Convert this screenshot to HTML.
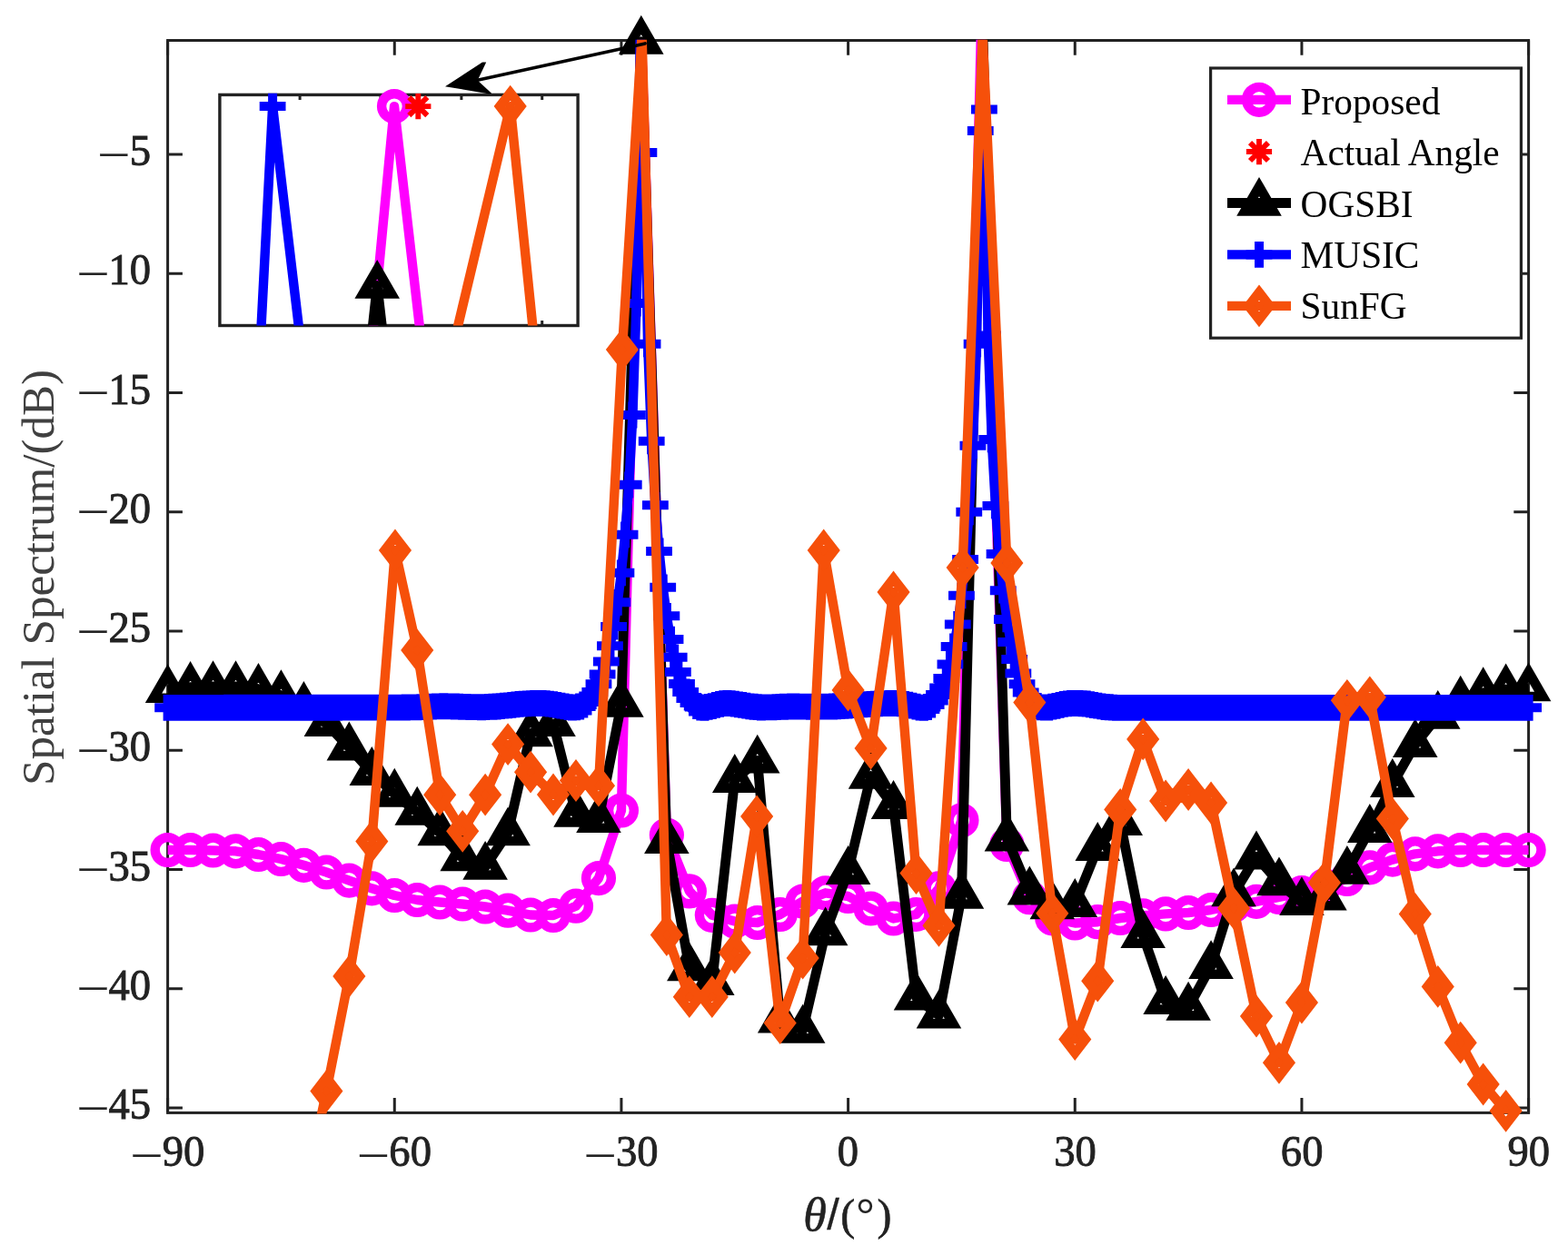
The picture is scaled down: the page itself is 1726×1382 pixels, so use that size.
<!DOCTYPE html>
<html lang="en">
<head>
<meta charset="utf-8">
<title>Spatial Spectrum</title>
<style>
html,body{margin:0;padding:0;background:#ffffff;}
body{width:1726px;height:1382px;overflow:hidden;}
svg{display:block;}
</style>
</head>
<body>
<svg width="1726" height="1382" viewBox="0 0 1726 1382">
<defs><clipPath id="axc"><rect x="183.6" y="43.8" width="1500" height="1182.8"/></clipPath>
<clipPath id="axk"><rect x="183.6" y="40.3" width="1500" height="1186.3"/></clipPath>
<clipPath id="inc"><rect x="241.9" y="104.4" width="394.2" height="254.1"/></clipPath></defs>
<rect x="0" y="0" width="1726" height="1382" fill="#ffffff"/>
<path d="M184.6 1225.4 V1209.1 M184.6 44.5 V60.8 M434.27 1225.4 V1209.1 M434.27 44.5 V60.8 M683.93 1225.4 V1209.1 M683.93 44.5 V60.8 M933.6 1225.4 V1209.1 M933.6 44.5 V60.8 M1183.27 1225.4 V1209.1 M1183.27 44.5 V60.8 M1432.93 1225.4 V1209.1 M1432.93 44.5 V60.8 M1682.6 1225.4 V1209.1 M1682.6 44.5 V60.8 M184.6 1220 H200.9 M1682.6 1220 H1666.3 M184.6 1088.75 H200.9 M1682.6 1088.75 H1666.3 M184.6 957.5 H200.9 M1682.6 957.5 H1666.3 M184.6 826.25 H200.9 M1682.6 826.25 H1666.3 M184.6 695 H200.9 M1682.6 695 H1666.3 M184.6 563.75 H200.9 M1682.6 563.75 H1666.3 M184.6 432.5 H200.9 M1682.6 432.5 H1666.3 M184.6 301.25 H200.9 M1682.6 301.25 H1666.3 M184.6 170 H200.9 M1682.6 170 H1666.3" stroke="#222222" stroke-width="3" fill="none"/>
<rect x="184.6" y="44.5" width="1498" height="1180.9" fill="none" stroke="#222222" stroke-width="3"/>
<g id="proposed">
<path d="M184.6 936 L209.57 936 L234.53 936.5 L259.5 937.3 L284.47 941 L309.43 946 L334.4 952.8 L359.37 960.5 L384.33 969.6 L409.3 978.3 L434.27 986 L459.23 991 L484.2 993.5 L509.17 995.5 L534.13 998.5 L559.1 1002.7 L584.07 1007.5 L609.03 1008 L634 997.7 L658.97 967.1 L683.93 892.5 L706 38.75 L733.87 919.5 L758.83 981.4 L783.8 1007.8 L808.77 1014.5 L833.73 1016 L858.7 1007 L883.67 992.5 L908.63 983.3 L933.6 987 L958.57 1000.5 L983.53 1011.5 L1008.5 1007 L1033.47 978.3 L1058.43 903.3 L1079.8 38.75 L1108.37 930 L1133.33 988.2 L1158.3 1011.3 L1183.27 1016.5 L1208.23 1015.2 L1233.2 1011 L1258.17 1008.3 L1283.13 1006.4 L1308.1 1005 L1333.07 1002 L1358.03 997 L1383 992.8 L1407.97 988 L1432.93 983 L1457.9 975 L1482.87 968 L1507.83 955.3 L1532.8 946.6 L1557.77 940.3 L1582.73 937.3 L1607.7 936 L1632.67 936 L1657.63 936 L1682.6 936" fill="none" stroke="#ff00ff" stroke-width="10.4" stroke-linejoin="round" clip-path="url(#axc)"/>
<g fill="none" stroke="#ff00ff" stroke-width="10.4">
<circle cx="184.6" cy="936" r="13.9"/>
<circle cx="209.57" cy="936" r="13.9"/>
<circle cx="234.53" cy="936.5" r="13.9"/>
<circle cx="259.5" cy="937.3" r="13.9"/>
<circle cx="284.47" cy="941" r="13.9"/>
<circle cx="309.43" cy="946" r="13.9"/>
<circle cx="334.4" cy="952.8" r="13.9"/>
<circle cx="359.37" cy="960.5" r="13.9"/>
<circle cx="384.33" cy="969.6" r="13.9"/>
<circle cx="409.3" cy="978.3" r="13.9"/>
<circle cx="434.27" cy="986" r="13.9"/>
<circle cx="459.23" cy="991" r="13.9"/>
<circle cx="484.2" cy="993.5" r="13.9"/>
<circle cx="509.17" cy="995.5" r="13.9"/>
<circle cx="534.13" cy="998.5" r="13.9"/>
<circle cx="559.1" cy="1002.7" r="13.9"/>
<circle cx="584.07" cy="1007.5" r="13.9"/>
<circle cx="609.03" cy="1008" r="13.9"/>
<circle cx="634" cy="997.7" r="13.9"/>
<circle cx="658.97" cy="967.1" r="13.9"/>
<circle cx="683.93" cy="892.5" r="13.9"/>
<circle cx="733.87" cy="919.5" r="13.9"/>
<circle cx="758.83" cy="981.4" r="13.9"/>
<circle cx="783.8" cy="1007.8" r="13.9"/>
<circle cx="808.77" cy="1014.5" r="13.9"/>
<circle cx="833.73" cy="1016" r="13.9"/>
<circle cx="858.7" cy="1007" r="13.9"/>
<circle cx="883.67" cy="992.5" r="13.9"/>
<circle cx="908.63" cy="983.3" r="13.9"/>
<circle cx="933.6" cy="987" r="13.9"/>
<circle cx="958.57" cy="1000.5" r="13.9"/>
<circle cx="983.53" cy="1011.5" r="13.9"/>
<circle cx="1008.5" cy="1007" r="13.9"/>
<circle cx="1033.47" cy="978.3" r="13.9"/>
<circle cx="1058.43" cy="903.3" r="13.9"/>
<circle cx="1108.37" cy="930" r="13.9"/>
<circle cx="1133.33" cy="988.2" r="13.9"/>
<circle cx="1158.3" cy="1011.3" r="13.9"/>
<circle cx="1183.27" cy="1016.5" r="13.9"/>
<circle cx="1208.23" cy="1015.2" r="13.9"/>
<circle cx="1233.2" cy="1011" r="13.9"/>
<circle cx="1258.17" cy="1008.3" r="13.9"/>
<circle cx="1283.13" cy="1006.4" r="13.9"/>
<circle cx="1308.1" cy="1005" r="13.9"/>
<circle cx="1333.07" cy="1002" r="13.9"/>
<circle cx="1358.03" cy="997" r="13.9"/>
<circle cx="1383" cy="992.8" r="13.9"/>
<circle cx="1407.97" cy="988" r="13.9"/>
<circle cx="1432.93" cy="983" r="13.9"/>
<circle cx="1457.9" cy="975" r="13.9"/>
<circle cx="1482.87" cy="968" r="13.9"/>
<circle cx="1507.83" cy="955.3" r="13.9"/>
<circle cx="1532.8" cy="946.6" r="13.9"/>
<circle cx="1557.77" cy="940.3" r="13.9"/>
<circle cx="1582.73" cy="937.3" r="13.9"/>
<circle cx="1607.7" cy="936" r="13.9"/>
<circle cx="1632.67" cy="936" r="13.9"/>
<circle cx="1657.63" cy="936" r="13.9"/>
<circle cx="1682.6" cy="936" r="13.9"/>
</g></g>
<g id="ogsbi">
<path d="M184.6 759.8 L209.57 756.6 L234.53 755.8 L259.5 755.8 L284.47 758.6 L309.43 765.8 L334.4 778.6 L359.37 796.8 L384.33 823.1 L409.3 850.6 L434.27 874.4 L459.23 894.4 L484.2 917 L509.17 945 L534.13 954.5 L559.1 917 L584.07 808 L609.03 796.8 L634 896.4 L658.97 902.7 L683.93 775.5 L705.8 45.4 L733.87 925.7 L758.83 1066 L783.8 1081.8 L808.77 858.6 L833.73 837.3 L858.7 1123.1 L883.67 1134.4 L908.63 1027 L933.6 959.6 L958.57 854.4 L983.53 887.7 L1008.5 1098.3 L1033.47 1118.1 L1058.43 986.5 L1081.9 38.75 L1108.37 923.2 L1133.33 982.2 L1158.3 998 L1183.27 995.6 L1208.23 933.7 L1233.2 905.7 L1258.17 1029.7 L1283.13 1102.6 L1308.1 1109.4 L1333.07 1063.8 L1358.03 984 L1383 943.2 L1407.97 972 L1432.93 993.8 L1457.9 988.3 L1482.87 959.5 L1507.83 913.7 L1532.8 863.6 L1557.77 819.8 L1582.73 788.5 L1607.7 772.3 L1632.67 762.8 L1657.63 759.1 L1682.6 758" fill="none" stroke="#000000" stroke-width="10.8" stroke-linejoin="round" clip-path="url(#axc)"/>
<circle cx="705.8" cy="45.4" r="5.2" fill="#000"/>
<path d="M184.6 741.79 L200.2 768.81 L169 768.81 Z M209.57 738.59 L225.17 765.61 L193.97 765.61 Z M234.53 737.79 L250.13 764.81 L218.93 764.81 Z M259.5 737.79 L275.1 764.81 L243.9 764.81 Z M284.47 740.59 L300.07 767.61 L268.87 767.61 Z M309.43 747.79 L325.03 774.81 L293.83 774.81 Z M334.4 760.59 L350 787.61 L318.8 787.61 Z M359.37 778.79 L374.97 805.81 L343.77 805.81 Z M384.33 805.09 L399.93 832.11 L368.73 832.11 Z M409.3 832.59 L424.9 859.61 L393.7 859.61 Z M434.27 856.39 L449.87 883.41 L418.67 883.41 Z M459.23 876.39 L474.83 903.41 L443.63 903.41 Z M484.2 898.99 L499.8 926.01 L468.6 926.01 Z M509.17 926.99 L524.77 954.01 L493.57 954.01 Z M534.13 936.49 L549.73 963.51 L518.53 963.51 Z M559.1 898.99 L574.7 926.01 L543.5 926.01 Z M584.07 789.99 L599.67 817.01 L568.47 817.01 Z M609.03 778.79 L624.63 805.81 L593.43 805.81 Z M634 878.39 L649.6 905.41 L618.4 905.41 Z M658.97 884.69 L674.57 911.71 L643.37 911.71 Z M683.93 757.49 L699.53 784.51 L668.33 784.51 Z M705.8 27.39 L721.4 54.41 L690.2 54.41 Z M733.87 907.69 L749.47 934.71 L718.27 934.71 Z M758.83 1047.99 L774.43 1075.01 L743.23 1075.01 Z M783.8 1063.79 L799.4 1090.81 L768.2 1090.81 Z M808.77 840.59 L824.37 867.61 L793.17 867.61 Z M833.73 819.29 L849.33 846.31 L818.13 846.31 Z M858.7 1105.09 L874.3 1132.11 L843.1 1132.11 Z M883.67 1116.39 L899.27 1143.41 L868.07 1143.41 Z M908.63 1008.99 L924.23 1036.01 L893.03 1036.01 Z M933.6 941.59 L949.2 968.61 L918 968.61 Z M958.57 836.39 L974.17 863.41 L942.97 863.41 Z M983.53 869.69 L999.13 896.71 L967.93 896.71 Z M1008.5 1080.29 L1024.1 1107.31 L992.9 1107.31 Z M1033.47 1100.09 L1049.07 1127.11 L1017.87 1127.11 Z M1058.43 968.49 L1074.03 995.51 L1042.83 995.51 Z M1108.37 905.19 L1123.97 932.21 L1092.77 932.21 Z M1133.33 964.19 L1148.93 991.21 L1117.73 991.21 Z M1158.3 979.99 L1173.9 1007.01 L1142.7 1007.01 Z M1183.27 977.59 L1198.87 1004.61 L1167.67 1004.61 Z M1208.23 915.69 L1223.83 942.71 L1192.63 942.71 Z M1233.2 887.69 L1248.8 914.71 L1217.6 914.71 Z M1258.17 1011.69 L1273.77 1038.71 L1242.57 1038.71 Z M1283.13 1084.59 L1298.73 1111.61 L1267.53 1111.61 Z M1308.1 1091.39 L1323.7 1118.41 L1292.5 1118.41 Z M1333.07 1045.79 L1348.67 1072.81 L1317.47 1072.81 Z M1358.03 965.99 L1373.63 993.01 L1342.43 993.01 Z M1383 925.19 L1398.6 952.21 L1367.4 952.21 Z M1407.97 953.99 L1423.57 981.01 L1392.37 981.01 Z M1432.93 975.79 L1448.53 1002.81 L1417.33 1002.81 Z M1457.9 970.29 L1473.5 997.31 L1442.3 997.31 Z M1482.87 941.49 L1498.47 968.51 L1467.27 968.51 Z M1507.83 895.69 L1523.43 922.71 L1492.23 922.71 Z M1532.8 845.59 L1548.4 872.61 L1517.2 872.61 Z M1557.77 801.79 L1573.37 828.81 L1542.17 828.81 Z M1582.73 770.49 L1598.33 797.51 L1567.13 797.51 Z M1607.7 754.29 L1623.3 781.31 L1592.1 781.31 Z M1632.67 744.79 L1648.27 771.81 L1617.07 771.81 Z M1657.63 741.09 L1673.23 768.11 L1642.03 768.11 Z M1682.6 739.99 L1698.2 767.01 L1667 767.01 Z" fill="none" stroke="#000000" stroke-width="10.6" stroke-linejoin="miter" stroke-miterlimit="10"/>
</g>
<g id="music">
<path d="M184.6 779.3 L188.76 779.3 L192.92 779.3 L197.08 779.29 L201.24 779.29 L205.41 779.29 L209.57 779.29 L213.73 779.29 L217.89 779.29 L222.05 779.28 L226.21 779.28 L230.37 779.28 L234.53 779.28 L238.69 779.28 L242.86 779.28 L247.02 779.27 L251.18 779.27 L255.34 779.27 L259.5 779.27 L263.66 779.27 L267.82 779.27 L271.98 779.26 L276.14 779.26 L280.31 779.26 L284.47 779.26 L288.63 779.26 L292.79 779.26 L296.95 779.25 L301.11 779.25 L305.27 779.25 L309.43 779.25 L313.59 779.25 L317.76 779.25 L321.92 779.25 L326.08 779.24 L330.24 779.24 L334.4 779.24 L338.56 779.24 L342.72 779.24 L346.88 779.24 L351.04 779.23 L355.21 779.23 L359.37 779.23 L363.53 779.23 L367.69 779.23 L371.85 779.23 L376.01 779.22 L380.17 779.22 L384.33 779.22 L388.49 779.22 L392.66 779.22 L396.82 779.22 L400.98 779.21 L405.14 779.21 L409.3 779.21 L413.46 779.21 L417.62 779.21 L421.78 779.21 L425.94 779.2 L430.11 779.2 L434.27 779.2 L438.43 779.13 L442.59 779.07 L446.75 779 L450.91 778.93 L455.07 778.87 L459.23 778.8 L463.39 778.62 L467.56 778.45 L471.72 778.27 L475.88 778.1 L480.04 777.97 L484.2 777.83 L488.36 777.7 L492.52 777.8 L496.68 777.9 L500.84 778 L505.01 778.15 L509.17 778.3 L513.33 778.45 L517.49 778.6 L521.65 778.66 L525.81 778.71 L529.97 778.77 L534.13 778.71 L538.29 778.47 L542.46 778.24 L546.62 778 L550.78 777.6 L554.94 777.2 L559.1 776.8 L563.26 776.33 L567.42 775.87 L571.58 775.4 L575.74 775.13 L579.91 774.87 L584.07 774.6 L588.23 774.5 L592.39 774.4 L596.55 774.5 L600.71 774.6 L604.87 775.1 L609.03 775.6 L613.19 776.4 L617.36 777.2 L621.52 777.95 L625.68 778.7 L629.84 779.1 L634 778.9 L638.16 778 L642.32 776 L646.48 773 L650.64 768.5 L654.81 762 L658.97 753.3 L663.13 742.6 L667.29 728.6 L671.45 711.3 L675.61 690 L679.77 663.3 L683.93 630.8 L688.09 588.8 L692.26 533.8 L696.42 457 L700.58 334 L704.74 39 L708.9 168 L713.06 378.8 L717.22 485.8 L721.38 556.3 L725.54 607 L729.71 646.8 L733.87 678.3 L738.03 704.1 L742.19 723.8 L746.35 739.9 L750.51 753 L754.67 762 L758.83 769 L762.99 774 L767.16 777.5 L771.32 779.2 L775.48 779.3 L779.64 778.45 L783.8 777.6 L787.96 776.45 L792.12 775.3 L796.28 774.66 L800.44 774.48 L804.61 774.6 L808.77 775.2 L812.93 775.8 L817.09 776.47 L821.25 777.13 L825.41 777.8 L829.57 778.26 L833.73 778.72 L837.89 778.98 L842.06 778.92 L846.22 778.86 L850.38 778.8 L854.54 778.61 L858.7 778.42 L862.86 778.24 L867.02 778.05 L871.18 777.92 L875.34 777.99 L879.51 778.07 L883.67 778.15 L887.83 778.22 L891.99 778.3 L896.15 778.25 L900.31 778.2 L904.47 778.15 L908.63 778.1 L912.79 778.05 L916.96 778 L921.12 777.75 L925.28 777.5 L929.44 777.25 L933.6 777 L937.76 776.7 L941.92 776.4 L946.08 776.1 L950.24 775.8 L954.41 775.55 L958.57 775.3 L962.73 775.05 L966.89 774.8 L971.05 774.68 L975.21 774.56 L979.37 774.45 L983.53 774.49 L987.69 774.65 L991.86 774.8 L996.02 775.5 L1000.18 776.2 L1004.34 777.2 L1008.5 778.2 L1012.66 779.2 L1016.82 779.3 L1020.98 778.5 L1025.14 776 L1029.31 771.5 L1033.47 765 L1037.63 757.6 L1041.79 747 L1045.95 731.4 L1050.11 712 L1054.27 687.5 L1058.43 655.8 L1062.59 616.1 L1066.76 563.8 L1070.92 490.8 L1075.08 378.8 L1079.24 143.9 L1083.4 120.5 L1087.56 369.4 L1091.72 483.9 L1095.88 556.9 L1100.04 609.9 L1104.21 650.2 L1108.37 681.9 L1112.53 706.9 L1116.69 726.1 L1120.85 741.4 L1125.01 753.3 L1129.17 762.6 L1133.33 769.5 L1137.49 774.5 L1141.66 777.5 L1145.82 778.8 L1149.98 779.2 L1154.14 779 L1158.3 778.15 L1162.46 777.3 L1166.62 776.35 L1170.78 775.4 L1174.94 774.95 L1179.11 774.5 L1183.27 774.44 L1187.43 774.5 L1191.59 774.75 L1195.75 775 L1199.91 775.75 L1204.07 776.5 L1208.23 777.17 L1212.39 777.83 L1216.56 778.5 L1220.72 778.77 L1224.88 779.03 L1229.04 779.3 L1233.2 779.3 L1237.36 779.3 L1241.52 779.3 L1245.68 779.3 L1249.84 779.3 L1254.01 779.3 L1258.17 779.3 L1262.33 779.3 L1266.49 779.3 L1270.65 779.3 L1274.81 779.3 L1278.97 779.3 L1283.13 779.3 L1287.29 779.3 L1291.46 779.3 L1295.62 779.3 L1299.78 779.3 L1303.94 779.3 L1308.1 779.3 L1312.26 779.3 L1316.42 779.3 L1320.58 779.3 L1324.74 779.3 L1328.91 779.3 L1333.07 779.3 L1337.23 779.3 L1341.39 779.3 L1345.55 779.3 L1349.71 779.3 L1353.87 779.3 L1358.03 779.3 L1362.19 779.3 L1366.36 779.3 L1370.52 779.3 L1374.68 779.3 L1378.84 779.3 L1383 779.3 L1387.16 779.3 L1391.32 779.3 L1395.48 779.3 L1399.64 779.3 L1403.81 779.3 L1407.97 779.3 L1412.13 779.3 L1416.29 779.3 L1420.45 779.3 L1424.61 779.3 L1428.77 779.3 L1432.93 779.3 L1437.09 779.3 L1441.26 779.3 L1445.42 779.3 L1449.58 779.3 L1453.74 779.3 L1457.9 779.3 L1462.06 779.3 L1466.22 779.3 L1470.38 779.3 L1474.54 779.3 L1478.71 779.3 L1482.87 779.3 L1487.03 779.3 L1491.19 779.3 L1495.35 779.3 L1499.51 779.3 L1503.67 779.3 L1507.83 779.3 L1511.99 779.3 L1516.16 779.3 L1520.32 779.3 L1524.48 779.3 L1528.64 779.3 L1532.8 779.3 L1536.96 779.3 L1541.12 779.3 L1545.28 779.3 L1549.44 779.3 L1553.61 779.3 L1557.77 779.3 L1561.93 779.3 L1566.09 779.3 L1570.25 779.3 L1574.41 779.3 L1578.57 779.3 L1582.73 779.3 L1586.89 779.3 L1591.06 779.3 L1595.22 779.3 L1599.38 779.3 L1603.54 779.3 L1607.7 779.3 L1611.86 779.3 L1616.02 779.3 L1620.18 779.3 L1624.34 779.3 L1628.51 779.3 L1632.67 779.3 L1636.83 779.3 L1640.99 779.3 L1645.15 779.3 L1649.31 779.3 L1653.47 779.3 L1657.63 779.3 L1661.79 779.3 L1665.96 779.3 L1670.12 779.3 L1674.28 779.3 L1678.44 779.3 L1682.6 779.3" fill="none" stroke="#0000ff" stroke-width="10.4" stroke-linejoin="round" clip-path="url(#axc)"/>
<path d="M170.2 779.3h28.8 M184.6 764.9v28.8 M174.36 779.3h28.8 M188.76 764.9v28.8 M178.52 779.3h28.8 M192.92 764.9v28.8 M182.68 779.29h28.8 M197.08 764.89v28.8 M186.84 779.29h28.8 M201.24 764.89v28.8 M191.01 779.29h28.8 M205.41 764.89v28.8 M195.17 779.29h28.8 M209.57 764.89v28.8 M199.33 779.29h28.8 M213.73 764.89v28.8 M203.49 779.29h28.8 M217.89 764.89v28.8 M207.65 779.28h28.8 M222.05 764.88v28.8 M211.81 779.28h28.8 M226.21 764.88v28.8 M215.97 779.28h28.8 M230.37 764.88v28.8 M220.13 779.28h28.8 M234.53 764.88v28.8 M224.29 779.28h28.8 M238.69 764.88v28.8 M228.46 779.28h28.8 M242.86 764.88v28.8 M232.62 779.27h28.8 M247.02 764.88v28.8 M236.78 779.27h28.8 M251.18 764.87v28.8 M240.94 779.27h28.8 M255.34 764.87v28.8 M245.1 779.27h28.8 M259.5 764.87v28.8 M249.26 779.27h28.8 M263.66 764.87v28.8 M253.42 779.27h28.8 M267.82 764.87v28.8 M257.58 779.26h28.8 M271.98 764.87v28.8 M261.74 779.26h28.8 M276.14 764.86v28.8 M265.91 779.26h28.8 M280.31 764.86v28.8 M270.07 779.26h28.8 M284.47 764.86v28.8 M274.23 779.26h28.8 M288.63 764.86v28.8 M278.39 779.26h28.8 M292.79 764.86v28.8 M282.55 779.25h28.8 M296.95 764.86v28.8 M286.71 779.25h28.8 M301.11 764.85v28.8 M290.87 779.25h28.8 M305.27 764.85v28.8 M295.03 779.25h28.8 M309.43 764.85v28.8 M299.19 779.25h28.8 M313.59 764.85v28.8 M303.36 779.25h28.8 M317.76 764.85v28.8 M307.52 779.25h28.8 M321.92 764.85v28.8 M311.68 779.24h28.8 M326.08 764.84v28.8 M315.84 779.24h28.8 M330.24 764.84v28.8 M320 779.24h28.8 M334.4 764.84v28.8 M324.16 779.24h28.8 M338.56 764.84v28.8 M328.32 779.24h28.8 M342.72 764.84v28.8 M332.48 779.24h28.8 M346.88 764.84v28.8 M336.64 779.23h28.8 M351.04 764.83v28.8 M340.81 779.23h28.8 M355.21 764.83v28.8 M344.97 779.23h28.8 M359.37 764.83v28.8 M349.13 779.23h28.8 M363.53 764.83v28.8 M353.29 779.23h28.8 M367.69 764.83v28.8 M357.45 779.23h28.8 M371.85 764.83v28.8 M361.61 779.22h28.8 M376.01 764.82v28.8 M365.77 779.22h28.8 M380.17 764.82v28.8 M369.93 779.22h28.8 M384.33 764.82v28.8 M374.09 779.22h28.8 M388.49 764.82v28.8 M378.26 779.22h28.8 M392.66 764.82v28.8 M382.42 779.22h28.8 M396.82 764.82v28.8 M386.58 779.21h28.8 M400.98 764.81v28.8 M390.74 779.21h28.8 M405.14 764.81v28.8 M394.9 779.21h28.8 M409.3 764.81v28.8 M399.06 779.21h28.8 M413.46 764.81v28.8 M403.22 779.21h28.8 M417.62 764.81v28.8 M407.38 779.21h28.8 M421.78 764.81v28.8 M411.54 779.2h28.8 M425.94 764.8v28.8 M415.71 779.2h28.8 M430.11 764.8v28.8 M419.87 779.2h28.8 M434.27 764.8v28.8 M424.03 779.13h28.8 M438.43 764.73v28.8 M428.19 779.07h28.8 M442.59 764.67v28.8 M432.35 779h28.8 M446.75 764.6v28.8 M436.51 778.93h28.8 M450.91 764.53v28.8 M440.67 778.87h28.8 M455.07 764.47v28.8 M444.83 778.8h28.8 M459.23 764.4v28.8 M448.99 778.62h28.8 M463.39 764.23v28.8 M453.16 778.45h28.8 M467.56 764.05v28.8 M457.32 778.27h28.8 M471.72 763.88v28.8 M461.48 778.1h28.8 M475.88 763.7v28.8 M465.64 777.97h28.8 M480.04 763.57v28.8 M469.8 777.83h28.8 M484.2 763.43v28.8 M473.96 777.7h28.8 M488.36 763.3v28.8 M478.12 777.8h28.8 M492.52 763.4v28.8 M482.28 777.9h28.8 M496.68 763.5v28.8 M486.44 778h28.8 M500.84 763.6v28.8 M490.61 778.15h28.8 M505.01 763.75v28.8 M494.77 778.3h28.8 M509.17 763.9v28.8 M498.93 778.45h28.8 M513.33 764.05v28.8 M503.09 778.6h28.8 M517.49 764.2v28.8 M507.25 778.66h28.8 M521.65 764.26v28.8 M511.41 778.71h28.8 M525.81 764.31v28.8 M515.57 778.77h28.8 M529.97 764.37v28.8 M519.73 778.71h28.8 M534.13 764.31v28.8 M523.89 778.47h28.8 M538.29 764.07v28.8 M528.06 778.24h28.8 M542.46 763.84v28.8 M532.22 778h28.8 M546.62 763.6v28.8 M536.38 777.6h28.8 M550.78 763.2v28.8 M540.54 777.2h28.8 M554.94 762.8v28.8 M544.7 776.8h28.8 M559.1 762.4v28.8 M548.86 776.33h28.8 M563.26 761.93v28.8 M553.02 775.87h28.8 M567.42 761.47v28.8 M557.18 775.4h28.8 M571.58 761v28.8 M561.34 775.13h28.8 M575.74 760.73v28.8 M565.51 774.87h28.8 M579.91 760.47v28.8 M569.67 774.6h28.8 M584.07 760.2v28.8 M573.83 774.5h28.8 M588.23 760.1v28.8 M577.99 774.4h28.8 M592.39 760v28.8 M582.15 774.5h28.8 M596.55 760.1v28.8 M586.31 774.6h28.8 M600.71 760.2v28.8 M590.47 775.1h28.8 M604.87 760.7v28.8 M594.63 775.6h28.8 M609.03 761.2v28.8 M598.79 776.4h28.8 M613.19 762v28.8 M602.96 777.2h28.8 M617.36 762.8v28.8 M607.12 777.95h28.8 M621.52 763.55v28.8 M611.28 778.7h28.8 M625.68 764.3v28.8 M615.44 779.1h28.8 M629.84 764.7v28.8 M619.6 778.9h28.8 M634 764.5v28.8 M623.76 778h28.8 M638.16 763.6v28.8 M627.92 776h28.8 M642.32 761.6v28.8 M632.08 773h28.8 M646.48 758.6v28.8 M636.24 768.5h28.8 M650.64 754.1v28.8 M640.41 762h28.8 M654.81 747.6v28.8 M644.57 753.3h28.8 M658.97 738.9v28.8 M648.73 742.6h28.8 M663.13 728.2v28.8 M652.89 728.6h28.8 M667.29 714.2v28.8 M657.05 711.3h28.8 M671.45 696.9v28.8 M661.21 690h28.8 M675.61 675.6v28.8 M665.37 663.3h28.8 M679.77 648.9v28.8 M669.53 630.8h28.8 M683.93 616.4v28.8 M673.69 588.8h28.8 M688.09 574.4v28.8 M677.86 533.8h28.8 M692.26 519.4v28.8 M682.02 457h28.8 M696.42 442.6v28.8 M686.18 334h28.8 M700.58 319.6v28.8 M694.5 168h28.8 M708.9 153.6v28.8 M698.66 378.8h28.8 M713.06 364.4v28.8 M702.82 485.8h28.8 M717.22 471.4v28.8 M706.98 556.3h28.8 M721.38 541.9v28.8 M711.14 607h28.8 M725.54 592.6v28.8 M715.31 646.8h28.8 M729.71 632.4v28.8 M719.47 678.3h28.8 M733.87 663.9v28.8 M723.63 704.1h28.8 M738.03 689.7v28.8 M727.79 723.8h28.8 M742.19 709.4v28.8 M731.95 739.9h28.8 M746.35 725.5v28.8 M736.11 753h28.8 M750.51 738.6v28.8 M740.27 762h28.8 M754.67 747.6v28.8 M744.43 769h28.8 M758.83 754.6v28.8 M748.59 774h28.8 M762.99 759.6v28.8 M752.76 777.5h28.8 M767.16 763.1v28.8 M756.92 779.2h28.8 M771.32 764.8v28.8 M761.08 779.3h28.8 M775.48 764.9v28.8 M765.24 778.45h28.8 M779.64 764.05v28.8 M769.4 777.6h28.8 M783.8 763.2v28.8 M773.56 776.45h28.8 M787.96 762.05v28.8 M777.72 775.3h28.8 M792.12 760.9v28.8 M781.88 774.66h28.8 M796.28 760.26v28.8 M786.04 774.48h28.8 M800.44 760.08v28.8 M790.21 774.6h28.8 M804.61 760.2v28.8 M794.37 775.2h28.8 M808.77 760.8v28.8 M798.53 775.8h28.8 M812.93 761.4v28.8 M802.69 776.47h28.8 M817.09 762.07v28.8 M806.85 777.13h28.8 M821.25 762.73v28.8 M811.01 777.8h28.8 M825.41 763.4v28.8 M815.17 778.26h28.8 M829.57 763.86v28.8 M819.33 778.72h28.8 M833.73 764.32v28.8 M823.49 778.98h28.8 M837.89 764.58v28.8 M827.66 778.92h28.8 M842.06 764.52v28.8 M831.82 778.86h28.8 M846.22 764.46v28.8 M835.98 778.8h28.8 M850.38 764.4v28.8 M840.14 778.61h28.8 M854.54 764.21v28.8 M844.3 778.42h28.8 M858.7 764.02v28.8 M848.46 778.24h28.8 M862.86 763.84v28.8 M852.62 778.05h28.8 M867.02 763.65v28.8 M856.78 777.92h28.8 M871.18 763.52v28.8 M860.94 777.99h28.8 M875.34 763.59v28.8 M865.11 778.07h28.8 M879.51 763.67v28.8 M869.27 778.15h28.8 M883.67 763.75v28.8 M873.43 778.22h28.8 M887.83 763.82v28.8 M877.59 778.3h28.8 M891.99 763.9v28.8 M881.75 778.25h28.8 M896.15 763.85v28.8 M885.91 778.2h28.8 M900.31 763.8v28.8 M890.07 778.15h28.8 M904.47 763.75v28.8 M894.23 778.1h28.8 M908.63 763.7v28.8 M898.39 778.05h28.8 M912.79 763.65v28.8 M902.56 778h28.8 M916.96 763.6v28.8 M906.72 777.75h28.8 M921.12 763.35v28.8 M910.88 777.5h28.8 M925.28 763.1v28.8 M915.04 777.25h28.8 M929.44 762.85v28.8 M919.2 777h28.8 M933.6 762.6v28.8 M923.36 776.7h28.8 M937.76 762.3v28.8 M927.52 776.4h28.8 M941.92 762v28.8 M931.68 776.1h28.8 M946.08 761.7v28.8 M935.84 775.8h28.8 M950.24 761.4v28.8 M940.01 775.55h28.8 M954.41 761.15v28.8 M944.17 775.3h28.8 M958.57 760.9v28.8 M948.33 775.05h28.8 M962.73 760.65v28.8 M952.49 774.8h28.8 M966.89 760.4v28.8 M956.65 774.68h28.8 M971.05 760.28v28.8 M960.81 774.56h28.8 M975.21 760.16v28.8 M964.97 774.45h28.8 M979.37 760.05v28.8 M969.13 774.49h28.8 M983.53 760.09v28.8 M973.29 774.65h28.8 M987.69 760.25v28.8 M977.46 774.8h28.8 M991.86 760.4v28.8 M981.62 775.5h28.8 M996.02 761.1v28.8 M985.78 776.2h28.8 M1000.18 761.8v28.8 M989.94 777.2h28.8 M1004.34 762.8v28.8 M994.1 778.2h28.8 M1008.5 763.8v28.8 M998.26 779.2h28.8 M1012.66 764.8v28.8 M1002.42 779.3h28.8 M1016.82 764.9v28.8 M1006.58 778.5h28.8 M1020.98 764.1v28.8 M1010.74 776h28.8 M1025.14 761.6v28.8 M1014.91 771.5h28.8 M1029.31 757.1v28.8 M1019.07 765h28.8 M1033.47 750.6v28.8 M1023.23 757.6h28.8 M1037.63 743.2v28.8 M1027.39 747h28.8 M1041.79 732.6v28.8 M1031.55 731.4h28.8 M1045.95 717v28.8 M1035.71 712h28.8 M1050.11 697.6v28.8 M1039.87 687.5h28.8 M1054.27 673.1v28.8 M1044.03 655.8h28.8 M1058.43 641.4v28.8 M1048.19 616.1h28.8 M1062.59 601.7v28.8 M1052.36 563.8h28.8 M1066.76 549.4v28.8 M1056.52 490.8h28.8 M1070.92 476.4v28.8 M1060.68 378.8h28.8 M1075.08 364.4v28.8 M1064.84 143.9h28.8 M1079.24 129.5v28.8 M1069 120.5h28.8 M1083.4 106.1v28.8 M1073.16 369.4h28.8 M1087.56 355v28.8 M1077.32 483.9h28.8 M1091.72 469.5v28.8 M1081.48 556.9h28.8 M1095.88 542.5v28.8 M1085.64 609.9h28.8 M1100.04 595.5v28.8 M1089.81 650.2h28.8 M1104.21 635.8v28.8 M1093.97 681.9h28.8 M1108.37 667.5v28.8 M1098.13 706.9h28.8 M1112.53 692.5v28.8 M1102.29 726.1h28.8 M1116.69 711.7v28.8 M1106.45 741.4h28.8 M1120.85 727v28.8 M1110.61 753.3h28.8 M1125.01 738.9v28.8 M1114.77 762.6h28.8 M1129.17 748.2v28.8 M1118.93 769.5h28.8 M1133.33 755.1v28.8 M1123.09 774.5h28.8 M1137.49 760.1v28.8 M1127.26 777.5h28.8 M1141.66 763.1v28.8 M1131.42 778.8h28.8 M1145.82 764.4v28.8 M1135.58 779.2h28.8 M1149.98 764.8v28.8 M1139.74 779h28.8 M1154.14 764.6v28.8 M1143.9 778.15h28.8 M1158.3 763.75v28.8 M1148.06 777.3h28.8 M1162.46 762.9v28.8 M1152.22 776.35h28.8 M1166.62 761.95v28.8 M1156.38 775.4h28.8 M1170.78 761v28.8 M1160.54 774.95h28.8 M1174.94 760.55v28.8 M1164.71 774.5h28.8 M1179.11 760.1v28.8 M1168.87 774.44h28.8 M1183.27 760.04v28.8 M1173.03 774.5h28.8 M1187.43 760.1v28.8 M1177.19 774.75h28.8 M1191.59 760.35v28.8 M1181.35 775h28.8 M1195.75 760.6v28.8 M1185.51 775.75h28.8 M1199.91 761.35v28.8 M1189.67 776.5h28.8 M1204.07 762.1v28.8 M1193.83 777.17h28.8 M1208.23 762.77v28.8 M1197.99 777.83h28.8 M1212.39 763.43v28.8 M1202.16 778.5h28.8 M1216.56 764.1v28.8 M1206.32 778.77h28.8 M1220.72 764.37v28.8 M1210.48 779.03h28.8 M1224.88 764.63v28.8 M1214.64 779.3h28.8 M1229.04 764.9v28.8 M1218.8 779.3h28.8 M1233.2 764.9v28.8 M1222.96 779.3h28.8 M1237.36 764.9v28.8 M1227.12 779.3h28.8 M1241.52 764.9v28.8 M1231.28 779.3h28.8 M1245.68 764.9v28.8 M1235.44 779.3h28.8 M1249.84 764.9v28.8 M1239.61 779.3h28.8 M1254.01 764.9v28.8 M1243.77 779.3h28.8 M1258.17 764.9v28.8 M1247.93 779.3h28.8 M1262.33 764.9v28.8 M1252.09 779.3h28.8 M1266.49 764.9v28.8 M1256.25 779.3h28.8 M1270.65 764.9v28.8 M1260.41 779.3h28.8 M1274.81 764.9v28.8 M1264.57 779.3h28.8 M1278.97 764.9v28.8 M1268.73 779.3h28.8 M1283.13 764.9v28.8 M1272.89 779.3h28.8 M1287.29 764.9v28.8 M1277.06 779.3h28.8 M1291.46 764.9v28.8 M1281.22 779.3h28.8 M1295.62 764.9v28.8 M1285.38 779.3h28.8 M1299.78 764.9v28.8 M1289.54 779.3h28.8 M1303.94 764.9v28.8 M1293.7 779.3h28.8 M1308.1 764.9v28.8 M1297.86 779.3h28.8 M1312.26 764.9v28.8 M1302.02 779.3h28.8 M1316.42 764.9v28.8 M1306.18 779.3h28.8 M1320.58 764.9v28.8 M1310.34 779.3h28.8 M1324.74 764.9v28.8 M1314.51 779.3h28.8 M1328.91 764.9v28.8 M1318.67 779.3h28.8 M1333.07 764.9v28.8 M1322.83 779.3h28.8 M1337.23 764.9v28.8 M1326.99 779.3h28.8 M1341.39 764.9v28.8 M1331.15 779.3h28.8 M1345.55 764.9v28.8 M1335.31 779.3h28.8 M1349.71 764.9v28.8 M1339.47 779.3h28.8 M1353.87 764.9v28.8 M1343.63 779.3h28.8 M1358.03 764.9v28.8 M1347.79 779.3h28.8 M1362.19 764.9v28.8 M1351.96 779.3h28.8 M1366.36 764.9v28.8 M1356.12 779.3h28.8 M1370.52 764.9v28.8 M1360.28 779.3h28.8 M1374.68 764.9v28.8 M1364.44 779.3h28.8 M1378.84 764.9v28.8 M1368.6 779.3h28.8 M1383 764.9v28.8 M1372.76 779.3h28.8 M1387.16 764.9v28.8 M1376.92 779.3h28.8 M1391.32 764.9v28.8 M1381.08 779.3h28.8 M1395.48 764.9v28.8 M1385.24 779.3h28.8 M1399.64 764.9v28.8 M1389.41 779.3h28.8 M1403.81 764.9v28.8 M1393.57 779.3h28.8 M1407.97 764.9v28.8 M1397.73 779.3h28.8 M1412.13 764.9v28.8 M1401.89 779.3h28.8 M1416.29 764.9v28.8 M1406.05 779.3h28.8 M1420.45 764.9v28.8 M1410.21 779.3h28.8 M1424.61 764.9v28.8 M1414.37 779.3h28.8 M1428.77 764.9v28.8 M1418.53 779.3h28.8 M1432.93 764.9v28.8 M1422.69 779.3h28.8 M1437.09 764.9v28.8 M1426.86 779.3h28.8 M1441.26 764.9v28.8 M1431.02 779.3h28.8 M1445.42 764.9v28.8 M1435.18 779.3h28.8 M1449.58 764.9v28.8 M1439.34 779.3h28.8 M1453.74 764.9v28.8 M1443.5 779.3h28.8 M1457.9 764.9v28.8 M1447.66 779.3h28.8 M1462.06 764.9v28.8 M1451.82 779.3h28.8 M1466.22 764.9v28.8 M1455.98 779.3h28.8 M1470.38 764.9v28.8 M1460.14 779.3h28.8 M1474.54 764.9v28.8 M1464.31 779.3h28.8 M1478.71 764.9v28.8 M1468.47 779.3h28.8 M1482.87 764.9v28.8 M1472.63 779.3h28.8 M1487.03 764.9v28.8 M1476.79 779.3h28.8 M1491.19 764.9v28.8 M1480.95 779.3h28.8 M1495.35 764.9v28.8 M1485.11 779.3h28.8 M1499.51 764.9v28.8 M1489.27 779.3h28.8 M1503.67 764.9v28.8 M1493.43 779.3h28.8 M1507.83 764.9v28.8 M1497.59 779.3h28.8 M1511.99 764.9v28.8 M1501.76 779.3h28.8 M1516.16 764.9v28.8 M1505.92 779.3h28.8 M1520.32 764.9v28.8 M1510.08 779.3h28.8 M1524.48 764.9v28.8 M1514.24 779.3h28.8 M1528.64 764.9v28.8 M1518.4 779.3h28.8 M1532.8 764.9v28.8 M1522.56 779.3h28.8 M1536.96 764.9v28.8 M1526.72 779.3h28.8 M1541.12 764.9v28.8 M1530.88 779.3h28.8 M1545.28 764.9v28.8 M1535.04 779.3h28.8 M1549.44 764.9v28.8 M1539.21 779.3h28.8 M1553.61 764.9v28.8 M1543.37 779.3h28.8 M1557.77 764.9v28.8 M1547.53 779.3h28.8 M1561.93 764.9v28.8 M1551.69 779.3h28.8 M1566.09 764.9v28.8 M1555.85 779.3h28.8 M1570.25 764.9v28.8 M1560.01 779.3h28.8 M1574.41 764.9v28.8 M1564.17 779.3h28.8 M1578.57 764.9v28.8 M1568.33 779.3h28.8 M1582.73 764.9v28.8 M1572.49 779.3h28.8 M1586.89 764.9v28.8 M1576.66 779.3h28.8 M1591.06 764.9v28.8 M1580.82 779.3h28.8 M1595.22 764.9v28.8 M1584.98 779.3h28.8 M1599.38 764.9v28.8 M1589.14 779.3h28.8 M1603.54 764.9v28.8 M1593.3 779.3h28.8 M1607.7 764.9v28.8 M1597.46 779.3h28.8 M1611.86 764.9v28.8 M1601.62 779.3h28.8 M1616.02 764.9v28.8 M1605.78 779.3h28.8 M1620.18 764.9v28.8 M1609.94 779.3h28.8 M1624.34 764.9v28.8 M1614.11 779.3h28.8 M1628.51 764.9v28.8 M1618.27 779.3h28.8 M1632.67 764.9v28.8 M1622.43 779.3h28.8 M1636.83 764.9v28.8 M1626.59 779.3h28.8 M1640.99 764.9v28.8 M1630.75 779.3h28.8 M1645.15 764.9v28.8 M1634.91 779.3h28.8 M1649.31 764.9v28.8 M1639.07 779.3h28.8 M1653.47 764.9v28.8 M1643.23 779.3h28.8 M1657.63 764.9v28.8 M1647.39 779.3h28.8 M1661.79 764.9v28.8 M1651.56 779.3h28.8 M1665.96 764.9v28.8 M1655.72 779.3h28.8 M1670.12 764.9v28.8 M1659.88 779.3h28.8 M1674.28 764.9v28.8 M1664.04 779.3h28.8 M1678.44 764.9v28.8 M1668.2 779.3h28.8 M1682.6 764.9v28.8" fill="none" stroke="#0000ff" stroke-width="10"/>
</g>
<g id="sunfg">
<path d="M334.4 1320 L359.37 1201.5 L384.33 1075.1 L409.3 926.5 L434.97 606 L459.23 716 L484.2 875.2 L509.17 915.3 L534.13 875.2 L559.1 819.6 L584.07 850.2 L609.03 875 L634 859.5 L658.97 865.2 L684.93 385 L706.6 38.75 L733.87 1029.5 L758.83 1097.7 L783.8 1097.7 L808.77 1049 L833.13 899 L858.7 1126.5 L883.67 1055 L906.73 606 L933.6 760 L958.57 824 L983.53 652 L1008.5 961.6 L1033.47 1019.3 L1059.63 625.1 L1081.6 38.75 L1108.37 619.9 L1133.33 773.5 L1158.3 1005.8 L1183.27 1144.5 L1208.23 1080.2 L1233.2 891.5 L1258.17 813.9 L1283.13 882 L1308.1 869.5 L1333.07 884 L1358.03 1000.2 L1383 1119 L1407.97 1170.3 L1432.93 1104 L1457.9 972 L1482.87 771.3 L1507.83 767.8 L1532.8 901.5 L1557.77 1006.5 L1582.73 1086.4 L1607.7 1148.2 L1632.67 1194 L1657.63 1223.3 L1682.6 1245" fill="none" stroke="#f6500a" stroke-width="10.4" stroke-linejoin="round" clip-path="url(#axc)"/>
<path d="M359.37 1186.6L370.87 1201.5L359.37 1216.4L347.87 1201.5Z M384.33 1060.2L395.83 1075.1L384.33 1090L372.83 1075.1Z M409.3 911.6L420.8 926.5L409.3 941.4L397.8 926.5Z M434.97 591.1L446.47 606L434.97 620.9L423.47 606Z M459.23 701.1L470.73 716L459.23 730.9L447.73 716Z M484.2 860.3L495.7 875.2L484.2 890.1L472.7 875.2Z M509.17 900.4L520.67 915.3L509.17 930.2L497.67 915.3Z M534.13 860.3L545.63 875.2L534.13 890.1L522.63 875.2Z M559.1 804.7L570.6 819.6L559.1 834.5L547.6 819.6Z M584.07 835.3L595.57 850.2L584.07 865.1L572.57 850.2Z M609.03 860.1L620.53 875L609.03 889.9L597.53 875Z M634 844.6L645.5 859.5L634 874.4L622.5 859.5Z M658.97 850.3L670.47 865.2L658.97 880.1L647.47 865.2Z M684.93 370.1L696.43 385L684.93 399.9L673.43 385Z M733.87 1014.6L745.37 1029.5L733.87 1044.4L722.37 1029.5Z M758.83 1082.8L770.33 1097.7L758.83 1112.6L747.33 1097.7Z M783.8 1082.8L795.3 1097.7L783.8 1112.6L772.3 1097.7Z M808.77 1034.1L820.27 1049L808.77 1063.9L797.27 1049Z M833.13 884.1L844.63 899L833.13 913.9L821.63 899Z M858.7 1111.6L870.2 1126.5L858.7 1141.4L847.2 1126.5Z M883.67 1040.1L895.17 1055L883.67 1069.9L872.17 1055Z M906.73 591.1L918.23 606L906.73 620.9L895.23 606Z M933.6 745.1L945.1 760L933.6 774.9L922.1 760Z M958.57 809.1L970.07 824L958.57 838.9L947.07 824Z M983.53 637.1L995.03 652L983.53 666.9L972.03 652Z M1008.5 946.7L1020 961.6L1008.5 976.5L997 961.6Z M1033.47 1004.4L1044.97 1019.3L1033.47 1034.2L1021.97 1019.3Z M1059.63 610.2L1071.13 625.1L1059.63 640L1048.13 625.1Z M1108.37 605L1119.87 619.9L1108.37 634.8L1096.87 619.9Z M1133.33 758.6L1144.83 773.5L1133.33 788.4L1121.83 773.5Z M1158.3 990.9L1169.8 1005.8L1158.3 1020.7L1146.8 1005.8Z M1183.27 1129.6L1194.77 1144.5L1183.27 1159.4L1171.77 1144.5Z M1208.23 1065.3L1219.73 1080.2L1208.23 1095.1L1196.73 1080.2Z M1233.2 876.6L1244.7 891.5L1233.2 906.4L1221.7 891.5Z M1258.17 799L1269.67 813.9L1258.17 828.8L1246.67 813.9Z M1283.13 867.1L1294.63 882L1283.13 896.9L1271.63 882Z M1308.1 854.6L1319.6 869.5L1308.1 884.4L1296.6 869.5Z M1333.07 869.1L1344.57 884L1333.07 898.9L1321.57 884Z M1358.03 985.3L1369.53 1000.2L1358.03 1015.1L1346.53 1000.2Z M1383 1104.1L1394.5 1119L1383 1133.9L1371.5 1119Z M1407.97 1155.4L1419.47 1170.3L1407.97 1185.2L1396.47 1170.3Z M1432.93 1089.1L1444.43 1104L1432.93 1118.9L1421.43 1104Z M1457.9 957.1L1469.4 972L1457.9 986.9L1446.4 972Z M1482.87 756.4L1494.37 771.3L1482.87 786.2L1471.37 771.3Z M1507.83 752.9L1519.33 767.8L1507.83 782.7L1496.33 767.8Z M1532.8 886.6L1544.3 901.5L1532.8 916.4L1521.3 901.5Z M1557.77 991.6L1569.27 1006.5L1557.77 1021.4L1546.27 1006.5Z M1582.73 1071.5L1594.23 1086.4L1582.73 1101.3L1571.23 1086.4Z M1607.7 1133.3L1619.2 1148.2L1607.7 1163.1L1596.2 1148.2Z M1632.67 1179.1L1644.17 1194L1632.67 1208.9L1621.17 1194Z M1657.63 1208.4L1669.13 1223.3L1657.63 1238.2L1646.13 1223.3Z" fill="none" stroke="#f6500a" stroke-width="10.4" stroke-linejoin="miter" stroke-miterlimit="10"/>
</g>
<g id="inset">
<rect x="241.9" y="104.4" width="394.2" height="254.1" fill="#ffffff"/>
<path d="M330.1 104.4v5.6 M330.1 358.5v-5.6 M419 104.4v5.6 M419 358.5v-5.6 M507.9 104.4v5.6 M507.9 358.5v-5.6 M596.7 104.4v5.6 M596.7 358.5v-5.6" stroke="#222222" stroke-width="3" fill="none"/>
<rect x="241.9" y="104.4" width="394.2" height="254.1" fill="none" stroke="#222222" stroke-width="3.4"/>
<path d="M399.65 479.2 L434 117.1 L475.55 479.2" fill="none" stroke="#ff00ff" stroke-width="10.4" stroke-linejoin="round" clip-path="url(#inc)"/>
<circle cx="434" cy="117.1" r="13.9" fill="none" stroke="#ff00ff" stroke-width="10.4"/>
<path d="M446.2 117.1h28.2 M460.3 103v28.2 M450.33 107.13l19.94 19.94 M450.33 127.07l19.94 -19.94" fill="none" stroke="#ff0000" stroke-width="5.9"/>
<path d="M408 380.5 L415.2 314.5 L422.85 380.5" fill="none" stroke="#000000" stroke-width="10.8" stroke-linejoin="round" clip-path="url(#inc)"/>
<path d="M415.2 296.49 L430.8 323.51 L399.6 323.51 Z" fill="none" stroke="#000000" stroke-width="10.6" stroke-linejoin="miter" stroke-miterlimit="10"/>
<path d="M281.35 479.2 L300.1 117.1 L343 479.2" fill="none" stroke="#0000ff" stroke-width="10.4" stroke-linejoin="round" clip-path="url(#inc)"/>
<path d="M285.7 117.1h28.8 M300.1 102.7v28.8" fill="none" stroke="#0000ff" stroke-width="10"/>
<path d="M475.45 479.2 L561.7 117.1 L598.6 479.2" fill="none" stroke="#f6500a" stroke-width="10.4" stroke-linejoin="round" clip-path="url(#inc)"/>
<path d="M561.7 102.2L573.2 117.1L561.7 132L550.2 117.1Z" fill="none" stroke="#f6500a" stroke-width="10.4" stroke-linejoin="miter" stroke-miterlimit="10"/>
</g>
<g id="legend">
<rect x="1332.6" y="75" width="341.8" height="297.2" fill="#ffffff" stroke="#222222" stroke-width="3.2"/>
<path d="M1351 109.8H1421" stroke="#ff00ff" stroke-width="10.2" fill="none"/>
<circle cx="1386" cy="109.8" r="13.9" fill="none" stroke="#ff00ff" stroke-width="10.4"/>
<path d="M1371.9 167.05h28.2 M1386 152.95v28.2 M1376.03 157.08l19.94 19.94 M1376.03 177.02l19.94 -19.94" fill="none" stroke="#ff0000" stroke-width="5.9"/>
<path d="M1351 223.5H1421" stroke="#000000" stroke-width="10.8" fill="none"/>
<path d="M1386 205.49 L1401.6 232.51 L1370.4 232.51 Z" fill="none" stroke="#000000" stroke-width="10.6" stroke-linejoin="miter" stroke-miterlimit="10"/>
<path d="M1351 280.4H1421" stroke="#0000ff" stroke-width="10.2" fill="none"/>
<path d="M1371.6 280.4h28.8 M1386 266v28.8" fill="none" stroke="#0000ff" stroke-width="10"/>
<path d="M1351 336.9H1421" stroke="#f6500a" stroke-width="10.2" fill="none"/>
<path d="M1386 322L1397.5 336.9L1386 351.8L1374.5 336.9Z" fill="none" stroke="#f6500a" stroke-width="10.4" stroke-linejoin="miter" stroke-miterlimit="10"/>
<g font-family="'Liberation Serif', serif" font-size="41.3" fill="#000000">
<text x="1431.6" y="125.5">Proposed</text>
<text x="1431.6" y="181.8">Actual Angle</text>
<text x="1431.6" y="238.7">OGSBI</text>
<text x="1431.6" y="295">MUSIC</text>
<text x="1431.6" y="351.4">SunFG</text>
</g></g>
<g id="arrow">
<path d="M710.1 47.9 L525.6 88.2" stroke="#000" stroke-width="3.6" fill="none" stroke-linecap="round"/>
<path d="M490 95.2 L531 68.6 L535.2 68.4 L525.7 88.4 L541.1 102.8 L539 103.4 Z" fill="#000"/>
</g>
<g id="ticklabels" font-family="'Liberation Serif', serif" font-size="49.6" fill="#222222" stroke="#222222" stroke-width="0.9">
<text transform="translate(161.1 1288.7) scale(1.3 1.0)" text-anchor="middle" stroke-width="0.25">−</text><text transform="translate(202 1284.1) scale(0.94 1)" text-anchor="middle">90</text>
<text transform="translate(410.77 1288.7) scale(1.3 1.0)" text-anchor="middle" stroke-width="0.25">−</text><text transform="translate(451.67 1284.1) scale(0.94 1)" text-anchor="middle">60</text>
<text transform="translate(660.43 1288.7) scale(1.3 1.0)" text-anchor="middle" stroke-width="0.25">−</text><text transform="translate(701.33 1284.1) scale(0.94 1)" text-anchor="middle">30</text>
<text transform="translate(933.5 1284.1) scale(0.94 1)" text-anchor="middle">0</text>
<text transform="translate(1183.47 1284.1) scale(0.94 1)" text-anchor="middle">30</text>
<text transform="translate(1433.13 1284.1) scale(0.94 1)" text-anchor="middle">60</text>
<text transform="translate(1682.8 1284.1) scale(0.94 1)" text-anchor="middle">90</text>
<text transform="translate(102.1 1236.7) scale(1.3 1.0)" text-anchor="middle" stroke-width="0.25">−</text><text transform="translate(142.7 1232.1) scale(0.94 1)" text-anchor="middle">45</text>
<text transform="translate(102.1 1105.45) scale(1.3 1.0)" text-anchor="middle" stroke-width="0.25">−</text><text transform="translate(142.7 1100.85) scale(0.94 1)" text-anchor="middle">40</text>
<text transform="translate(102.1 974.2) scale(1.3 1.0)" text-anchor="middle" stroke-width="0.25">−</text><text transform="translate(142.7 969.6) scale(0.94 1)" text-anchor="middle">35</text>
<text transform="translate(102.1 842.95) scale(1.3 1.0)" text-anchor="middle" stroke-width="0.25">−</text><text transform="translate(142.7 838.35) scale(0.94 1)" text-anchor="middle">30</text>
<text transform="translate(102.1 711.7) scale(1.3 1.0)" text-anchor="middle" stroke-width="0.25">−</text><text transform="translate(142.7 707.1) scale(0.94 1)" text-anchor="middle">25</text>
<text transform="translate(102.1 580.45) scale(1.3 1.0)" text-anchor="middle" stroke-width="0.25">−</text><text transform="translate(142.7 575.85) scale(0.94 1)" text-anchor="middle">20</text>
<text transform="translate(102.1 449.2) scale(1.3 1.0)" text-anchor="middle" stroke-width="0.25">−</text><text transform="translate(142.7 444.6) scale(0.94 1)" text-anchor="middle">15</text>
<text transform="translate(102.1 317.95) scale(1.3 1.0)" text-anchor="middle" stroke-width="0.25">−</text><text transform="translate(142.7 313.35) scale(0.94 1)" text-anchor="middle">10</text>
<text transform="translate(124.9 186.7) scale(1.3 1.0)" text-anchor="middle" stroke-width="0.25">−</text><text transform="translate(154.5 182.1) scale(0.94 1)" text-anchor="middle">5</text>
</g>
<g id="axislabels" font-family="'Liberation Serif', serif" fill="#222222">
<text transform="translate(58.6 636) rotate(-90)" font-size="51" text-anchor="middle" textLength="458" lengthAdjust="spacingAndGlyphs" fill="#404040">Spatial Spectrum/(dB)</text>
<g stroke="#222222" stroke-width="0.6">
<text x="884.3" y="1355" font-size="52" font-style="italic">θ</text>
<text x="910.2" y="1353.6" font-size="49" font-family="'Liberation Sans', sans-serif" stroke-width="0.3">/</text>
<text x="925.2" y="1353.9" font-size="48">(</text>
<text x="952.6" y="1354" font-size="50" text-anchor="middle" stroke-width="0.2">°</text>
<text x="965.5" y="1353.9" font-size="48">)</text>
</g></g>
</svg>
</body>
</html>
